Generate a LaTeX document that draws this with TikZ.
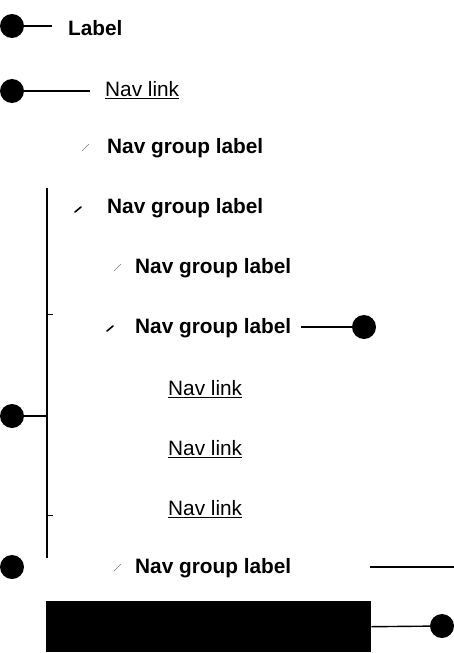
\documentclass[tikz,border=0pt]{standalone}
\usepackage{fontspec}
\setsansfont{Liberation Sans}
\usetikzlibrary{positioning}
\tikzstyle{dot} = [circle, fill=black, minimum size=24pt, inner sep=0pt]
\tikzstyle{grouplabel} = [anchor=west, inner sep=0pt, font=\sffamily\bfseries\fontsize{20.8}{24}\selectfont]
\tikzstyle{navlink} = [anchor=west, inner sep=0pt, font=\sffamily\fontsize{20.8}{24}\selectfont]
\tikzstyle{callout} = [line width=1.4pt]
\tikzstyle{chevopen} = [line width=1.6pt, line cap=round]
\tikzstyle{chevshut} = [line width=0.6pt, gray, line cap=round]
\newcommand{\navlinktext}{\underline{Nav link}}

\begin{document}
\begin{tikzpicture}[x=1pt, y=-1pt]
\useasboundingbox (0,0) rectangle (454,653);

% Top - label and first link
\node[grouplabel] (label) at (68,28) {Label};
\node[navlink] (linkA) at (105,90) {\navlinktext};

% Group rows
\node[grouplabel] (groupA) at (107,148) {Nav group label};
\node[grouplabel] (groupB) at (107,208) {Nav group label};
\node[grouplabel] (groupC) at (135,268) {Nav group label};
\node[grouplabel] (groupD) at (135,328) {Nav group label};
\node[navlink] (linkB) at (168,389) {\navlinktext};
\node[navlink] (linkC) at (168,449) {\navlinktext};
\node[navlink] (linkD) at (168,509) {\navlinktext};
\node[grouplabel] (groupE) at (135,568) {Nav group label};

% Footer bar
\node[fill=black, minimum width=325pt, minimum height=51pt, inner sep=0pt, anchor=north west] (footer) at (46,601) {};

% Chevrons
\draw[chevshut] (82,151) -- ++(7,-7);
\draw[chevopen] (75,212) -- ++(6,-5);
\draw[chevshut] (114,271) -- ++(7,-7);
\draw[chevopen] (107,331) -- ++(6,-5);
\draw[chevshut] (114,571) -- ++(7,-7);

% Tree line
\coordinate (treeTop) at (47,188);
\coordinate (treeEnd) at (47,558);
\draw[line width=2pt] (treeTop) -- (treeEnd);
\draw[line width=1pt] (47,314) -- ++(6,0);
\draw[line width=1pt] (47,515) -- ++(6,0);

% Callouts
\node[dot] (dotA) at (12,26) {};
\node[dot] (dotB) at (12,91) {};
\node[dot] (dotC) at (364,327) {};
\node[dot] (dotD) at (12,416) {};
\node[dot] (dotE) at (12,567) {};
\node[dot] (dotF) at (442,626) {};

\draw[callout, shorten >=16pt] (dotA) -- (label.west |- dotA);
\draw[callout, shorten >=15pt] (dotB) -- (linkA.west |- dotB);
\draw[callout] (groupD.east |- dotC) ++(10,0) -- (dotC);
\draw[callout] (dotD) -- (treeTop |- dotD);
\coordinate (tailA) at (370,567);
\coordinate (tailB) at (454,567);
\draw[callout] (tailA) -- (tailB);
\draw[callout] (footer.east) -- (dotF);

\end{tikzpicture}
\end{document}
